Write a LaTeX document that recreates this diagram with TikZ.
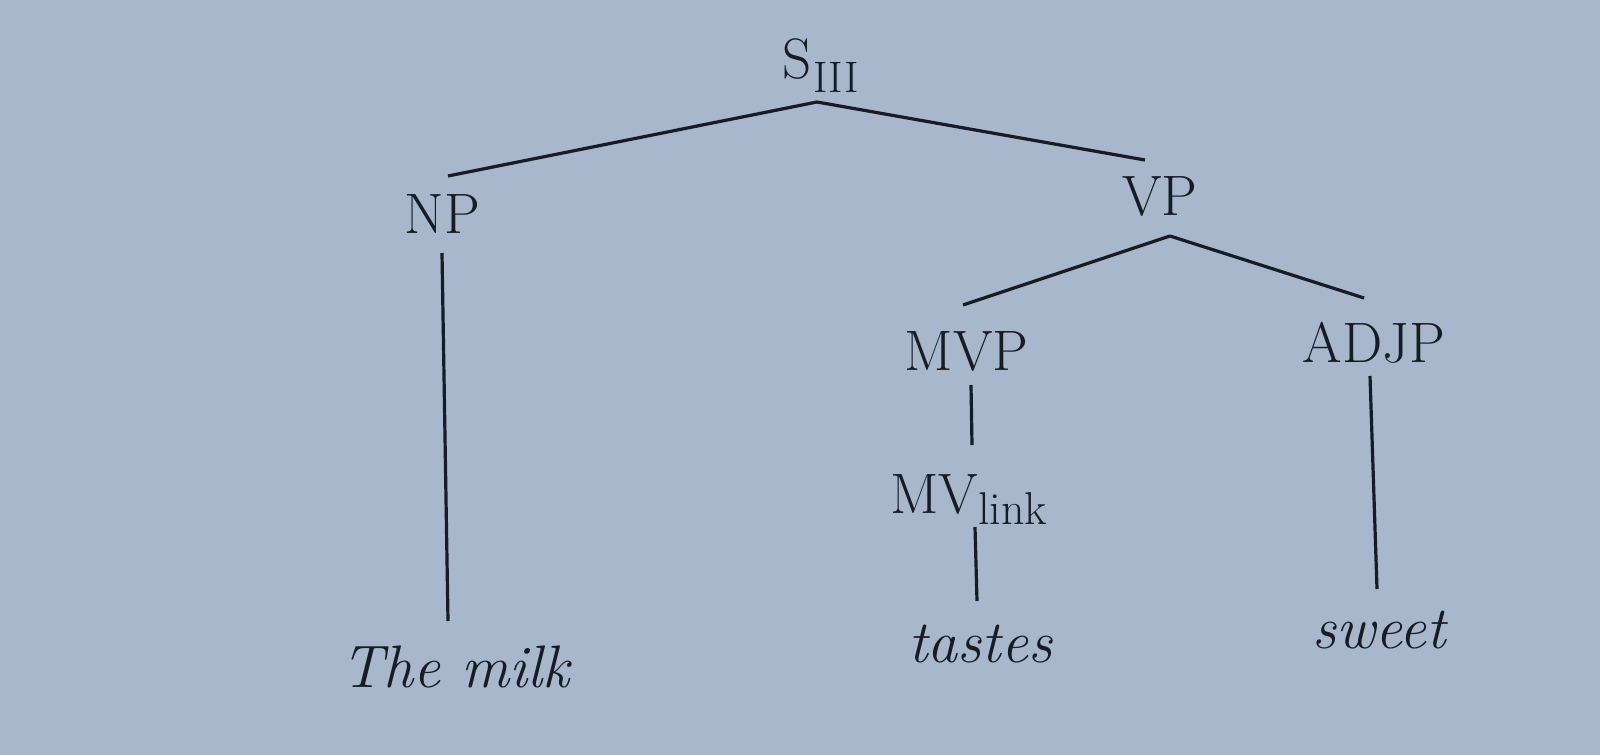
\documentclass[tikz,border=0pt]{standalone}
\usetikzlibrary{calc}
\definecolor{paper}{HTML}{A8B7CC}
\definecolor{ink}{HTML}{161B26}
\begin{document}
\begin{tikzpicture}[x=1pt,y=-1pt,
  lab/.style={inner sep=0pt, text=ink, font=\fontsize{57}{62}\selectfont, anchor=base},
  word/.style={lab, font=\fontsize{60}{64}\selectfont\itshape},
  branch/.style={draw=ink, line width=3.2pt}]
\fill[paper] (0,0) rectangle (1600,755);
\useasboundingbox (0,0) rectangle (1600,755);
% nodes
\node[lab, anchor=base west] (S) at (782,78) {S\kern2pt\raisebox{-14pt}{\fontsize{44}{44}\selectfont III}};
\node[lab] (NP) at (442.5,233) {NP};
\node[lab] (VP) at (1160,215) {VP};
\node[lab] (MVP) at (966.5,370) {MVP};
\node[lab] (ADJP) at (1374,362) {ADJP};
\node[lab, anchor=base west] (MVl) at (890,513) {MV\raisebox{-11pt}{\fontsize{46}{46}\selectfont link}};
\node[word] (milk) at (455,687) {The milk};
\node[word] (tastes) at (980,662) {tastes};
\node[word] (sweet) at (1379,648) {sweet};
% branches
\draw[branch] ($(S.base west)+(35,24)$) -- ($(NP.base)+(5.5,-57)$);
\draw[branch] ($(S.base west)+(35,24)$) -- ($(VP.base)+(-15,-55)$);
\draw[branch] ($(VP.base)+(10,21)$) -- ($(MVP.base)+(-3.5,-65)$);
\draw[branch] ($(VP.base)+(10,21)$) -- ($(ADJP.base)+(-10,-64)$);
\draw[branch] ($(NP.base)+(-0.5,20)$) -- ($(milk.base)+(-7,-66)$);
\draw[branch] ($(MVP.base)+(4.5,15)$) -- ($(MVl.base west)+(82,-68)$);
\draw[branch] ($(MVl.base west)+(85,14)$) -- ($(tastes.base)+(-3,-61)$);
\draw[branch] ($(ADJP.base)+(-4,14)$) -- ($(sweet.base)+(-2,-59)$);
\end{tikzpicture}
\end{document}
